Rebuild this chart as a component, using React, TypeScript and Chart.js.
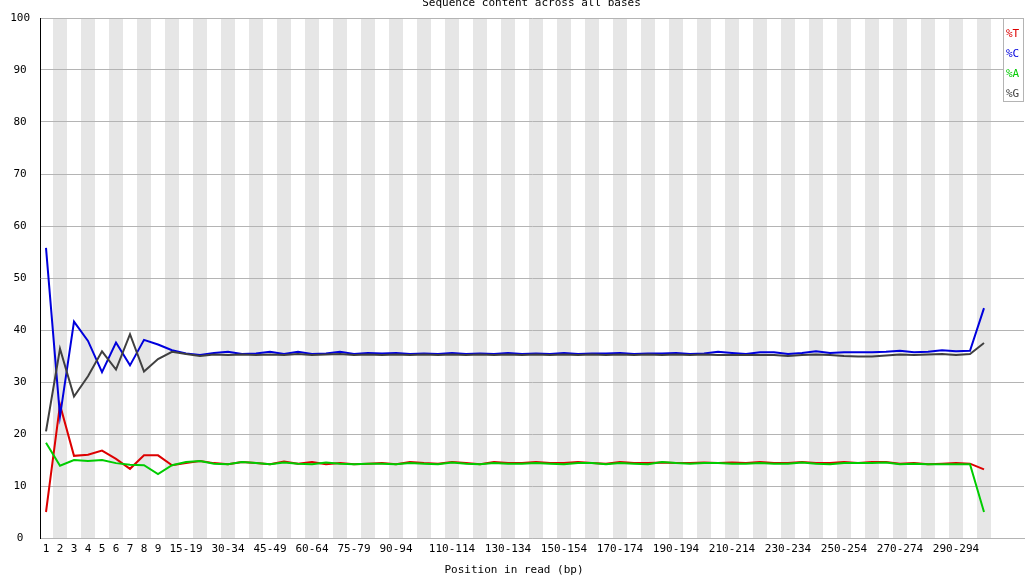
import React, { useEffect, useRef } from "react";
import { Chart, registerables } from "chart.js";

Chart.register(...registerables);

const positions = [
  "1", "2", "3", "4", "5", "6", "7", "8", "9",
  "10-14", "15-19", "20-24", "25-29", "30-34", "35-39", "40-44", "45-49",
  "50-54", "55-59", "60-64", "65-69", "70-74", "75-79", "80-84", "85-89",
  "90-94", "95-99", "100-104", "105-109", "110-114", "115-119", "120-124", "125-129",
  "130-134", "135-139", "140-144", "145-149", "150-154", "155-159", "160-164", "165-169",
  "170-174", "175-179", "180-184", "185-189", "190-194", "195-199", "200-204", "205-209",
  "210-214", "215-219", "220-224", "225-229", "230-234", "235-239", "240-244", "245-249",
  "250-254", "255-259", "260-264", "265-269", "270-274", "275-279", "280-284", "285-289",
  "290-294", "295-299", "300-301",
];

const shownTickLabels = [
  "1", "2", "3", "4", "5", "6", "7", "8", "9",
  "15-19", "30-34", "45-49", "60-64", "75-79", "90-94",
  "110-114", "130-134", "150-154", "170-174", "190-194",
  "210-214", "230-234", "250-254", "270-274", "290-294",
];

const pctT = [
  5.0, 25.6, 15.8, 16.0, 16.8, 15.2, 13.3, 15.9, 15.9, 14.0,
  14.4, 14.8, 14.4, 14.2, 14.6, 14.4, 14.2, 14.7, 14.3, 14.6,
  14.2, 14.4, 14.2, 14.3, 14.4, 14.2, 14.6, 14.4, 14.3, 14.6,
  14.4, 14.2, 14.6, 14.4, 14.4, 14.6, 14.4, 14.4, 14.6, 14.4,
  14.3, 14.6, 14.4, 14.4, 14.5, 14.4, 14.4, 14.5, 14.4, 14.5,
  14.4, 14.6, 14.4, 14.4, 14.6, 14.4, 14.4, 14.6, 14.4, 14.6,
  14.6, 14.3, 14.4, 14.2, 14.3, 14.4, 14.3, 13.2,
];

const pctC = [
  55.8, 23.4, 41.6, 37.9, 31.9, 37.6, 33.2, 38.1, 37.2, 36.1,
  35.5, 35.2, 35.6, 35.8, 35.4, 35.5, 35.8, 35.4, 35.8, 35.4,
  35.5, 35.8, 35.4, 35.6, 35.5, 35.6, 35.4, 35.5, 35.4, 35.6,
  35.4, 35.5, 35.4, 35.6, 35.4, 35.5, 35.4, 35.6, 35.4, 35.5,
  35.5, 35.6, 35.4, 35.5, 35.5, 35.6, 35.4, 35.5, 35.8, 35.6,
  35.4, 35.7, 35.7, 35.4, 35.6, 35.9, 35.6, 35.7, 35.7, 35.7,
  35.8, 36.0, 35.7, 35.8, 36.1, 35.9, 36.0, 44.2,
];

const pctA = [
  18.3, 13.9, 15.0, 14.8, 15.0, 14.4, 14.1, 14.0, 12.3, 14.0,
  14.6, 14.8, 14.3, 14.2, 14.6, 14.4, 14.2, 14.5, 14.3, 14.2,
  14.5, 14.3, 14.2, 14.3, 14.3, 14.2, 14.4, 14.3, 14.2, 14.5,
  14.3, 14.2, 14.4, 14.3, 14.3, 14.4, 14.3, 14.2, 14.4, 14.4,
  14.2, 14.4, 14.3, 14.2, 14.6, 14.4, 14.3, 14.4, 14.4, 14.3,
  14.3, 14.4, 14.3, 14.3, 14.5, 14.3, 14.2, 14.4, 14.4, 14.4,
  14.5, 14.2, 14.3, 14.2, 14.2, 14.2, 14.2, 5.0,
];

const pctG = [
  20.5, 36.4, 27.2, 31.1, 35.9, 32.4, 39.2, 32.0, 34.4, 35.8,
  35.4, 35.0, 35.3, 35.2, 35.3, 35.2, 35.3, 35.2, 35.4, 35.2,
  35.3, 35.4, 35.2, 35.3, 35.2, 35.3, 35.2, 35.3, 35.2, 35.3,
  35.2, 35.3, 35.2, 35.3, 35.2, 35.3, 35.2, 35.3, 35.2, 35.3,
  35.2, 35.3, 35.2, 35.3, 35.2, 35.3, 35.2, 35.3, 35.2, 35.2,
  35.2, 35.2, 35.2, 35.0, 35.2, 35.3, 35.2, 35.0, 34.9, 34.9,
  35.1, 35.3, 35.2, 35.3, 35.4, 35.2, 35.4, 37.5,
];

const seriesNames = ["%T", "%C", "%A", "%G"];
const seriesColors = ["#dd0000", "#0000dd", "#00cc00", "#404040"];
const chartTitle = "Sequence content across all bases";
const xAxisTitle = "Position in read (bp)";

const FONT = "DejaVu Sans Mono";

export default function App() {
  const canvasRef = useRef<HTMLCanvasElement | null>(null);

  useEffect(() => {
    document.body.style.margin = "0";
    const canvas = canvasRef.current;
    if (!canvas) return;

    const seriesValues = [pctT, pctC, pctA, pctG];
    const tickIndices = shownTickLabels.map((l) => positions.indexOf(l));

    const bandsPlugin = {
      id: "bands",
      beforeDraw(chart: any) {
        const { ctx, chartArea, scales } = chart;
        const x = scales.x;
        ctx.save();
        ctx.beginPath();
        ctx.rect(chartArea.left, chartArea.top, chartArea.right - chartArea.left, chartArea.bottom - chartArea.top);
        ctx.clip();
        ctx.fillStyle = "#e6e6e6";
        for (let i = 1; i < positions.length; i += 2) {
          const x0 = x.getPixelForValue(i - 0.5);
          const x1 = x.getPixelForValue(i + 0.5);
          ctx.fillRect(Math.round(x0), chartArea.top, Math.round(x1) - Math.round(x0), chartArea.bottom - chartArea.top);
        }
        ctx.restore();
      },
    };

    const textPlugin = {
      id: "texts",
      afterDraw(chart: any) {
        const { ctx, chartArea } = chart;
        ctx.save();
        ctx.font = `11px "${FONT}"`;
        ctx.fillStyle = "#000000";
        ctx.textAlign = "center";
        ctx.textBaseline = "alphabetic";
        ctx.fillText(chartTitle, 531.5, 6);
        ctx.textBaseline = "middle";
        ctx.fillText(xAxisTitle, 514, 570);

        // legend box
        const lx = 1003.5;
        const ly = chartArea.top + 0.5;
        const lw = 20;
        const lh = 83;
        ctx.fillStyle = "#ffffff";
        ctx.fillRect(lx, ly, lw, lh);
        ctx.strokeStyle = "#b4b4b4";
        ctx.lineWidth = 1;
        ctx.strokeRect(lx, ly, lw, lh);
        ctx.textAlign = "left";
        ctx.textBaseline = "middle";
        seriesNames.forEach((name, i) => {
          ctx.fillStyle = seriesColors[i];
          ctx.fillText(name, 1006, 34 + i * 20);
        });
        ctx.restore();
      },
    };

    const chart = new Chart(canvas, {
      type: "line",
      data: {
        datasets: seriesNames.map((name, s) => ({
          label: name,
          data: seriesValues[s].map((v, i) => ({ x: i, y: v })),
          borderColor: seriesColors[s],
          backgroundColor: seriesColors[s],
          borderWidth: 2,
          pointRadius: 0,
          tension: 0,
          fill: false,
          order: seriesNames.length - 1 - s,
        })),
      },
      options: {
        responsive: false,
        animation: false,
        events: [],
        layout: { padding: { top: 18, right: 9, bottom: 0, left: 0 } },
        plugins: {
          legend: { display: false },
          title: { display: false },
          tooltip: { enabled: false },
        },
        scales: {
          x: {
            type: "linear",
            min: -0.5 + 1 / 14,
            max: -0.5 + 1 / 14 + 984 / 14,
            afterFit(scale: any) {
              scale.height = 42;
            },
            afterBuildTicks(scale: any) {
              scale.ticks = tickIndices.map((v) => ({ value: v }));
            },
            grid: { display: false, drawTicks: false },
            border: { display: true, color: "#b4b4b4", width: 1 },
            ticks: {
              autoSkip: false,
              maxRotation: 0,
              minRotation: 0,
              padding: 5,
              color: "#000000",
              font: { family: FONT, size: 11 },
              callback: (value: any) => positions[Math.round(Number(value))] ?? "",
            },
          },
          y: {
            type: "linear",
            min: 0,
            max: 100,
            afterFit(scale: any) {
              scale.width = 40;
            },
            grid: { color: "#b4b4b4", lineWidth: 1, drawTicks: false },
            border: { display: true, color: "#000000", width: 1 },
            ticks: {
              stepSize: 10,
              padding: 10,
              crossAlign: "center",
              color: "#000000",
              font: { family: FONT, size: 11 },
            },
          },
        },
      },
      plugins: [bandsPlugin, textPlugin],
    } as any);

    return () => chart.destroy();
  }, []);

  return (
    <div style={{ width: 1033, height: 580 }}>
      <canvas ref={canvasRef} width={1033} height={580} style={{ display: "block" }} />
    </div>
  );
}
